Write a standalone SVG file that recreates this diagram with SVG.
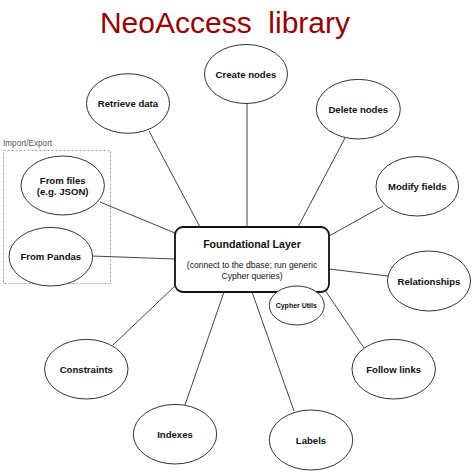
<svg xmlns="http://www.w3.org/2000/svg" width="474" height="473" viewBox="0 0 474 473">
<style>
.bg{fill:#ffffff}
.el{fill:#ffffff;stroke:#333333;stroke-width:1}
.lbl{font-family:"Liberation Sans",Arial,sans-serif;font-weight:bold;font-size:9.6px;fill:#111111;text-anchor:middle}
.sub{font-family:"Liberation Sans",Arial,sans-serif;font-size:8.6px;fill:#111111;text-anchor:middle}
.conn line{stroke:#444444;stroke-width:1}
</style>
<rect class="bg" x="0" y="0" width="474" height="473"/>
<text id="title" x="225" y="33" style="font-family:'Liberation Sans',Arial,sans-serif;font-size:30px;fill:#990000;text-anchor:middle" xml:space="preserve">NeoAccess  library</text>
<g id="import-export">
<rect x="3.5" y="150.5" width="107" height="133" fill="none" stroke="#999999" stroke-width="1" stroke-dasharray="2,2"/>
<text x="3" y="146" style="font-family:'Liberation Sans',Arial,sans-serif;font-size:8.2px;fill:#555555">Import/Export</text>
</g>
<g id="connectors" class="conn">
<line x1="149" y1="131" x2="200" y2="227"/>
<line x1="247" y1="103" x2="247" y2="227"/>
<line x1="345" y1="138" x2="298" y2="227"/>
<line x1="383" y1="206" x2="329" y2="236"/>
<line x1="329" y1="269" x2="388" y2="276"/>
<line x1="325" y1="290" x2="364" y2="348"/>
<line x1="252" y1="292" x2="294" y2="411"/>
<line x1="224" y1="292" x2="185" y2="405"/>
<line x1="113" y1="345" x2="176" y2="285"/>
<line x1="100" y1="202" x2="175" y2="233"/>
<line x1="92" y1="256" x2="175" y2="259"/>
</g>
<g id="foundational-layer">
<rect x="175" y="227" width="154" height="65" rx="8" ry="8" fill="#ffffff" stroke="#111111" stroke-width="1.8"/>
<text class="lbl" x="252" y="248" style="font-size:10.6px">Foundational Layer</text>
<text class="sub" x="252" y="268">(connect to the dbase; run generic</text>
<text class="sub" x="252" y="278.5">Cypher queries)</text>
</g>
<g id="create-nodes"><ellipse class="el" cx="246" cy="74" rx="41.5" ry="29.5"/><text class="lbl" x="246" y="77.5">Create nodes</text></g>
<g id="retrieve-data"><ellipse class="el" cx="128" cy="103.5" rx="41.5" ry="29.8"/><text class="lbl" x="128" y="107">Retrieve data</text></g>
<g id="delete-nodes"><ellipse class="el" cx="358.3" cy="109.2" rx="42" ry="29.8"/><text class="lbl" x="358.3" y="112.7">Delete nodes</text></g>
<g id="modify-fields"><ellipse class="el" cx="417.3" cy="186.3" rx="41.3" ry="29.7"/><text class="lbl" x="417.3" y="189.8">Modify fields</text></g>
<g id="relationships"><ellipse class="el" cx="429" cy="281" rx="41.5" ry="30"/><text class="lbl" x="429" y="284.5">Relationships</text></g>
<g id="follow-links"><ellipse class="el" cx="393.7" cy="369.2" rx="41.7" ry="29.8"/><text class="lbl" x="393.7" y="372.7">Follow links</text></g>
<g id="labels"><ellipse class="el" cx="311" cy="440" rx="41.7" ry="30"/><text class="lbl" x="311" y="443.5">Labels</text></g>
<g id="indexes"><ellipse class="el" cx="175" cy="434.2" rx="41.7" ry="29.8"/><text class="lbl" x="175" y="437.7">Indexes</text></g>
<g id="constraints"><ellipse class="el" cx="86.3" cy="369.2" rx="41.7" ry="29.8"/><text class="lbl" x="86.3" y="372.7">Constraints</text></g>
<g id="cypher-utils"><ellipse class="el" cx="296.8" cy="305.5" rx="27.5" ry="19.5"/><text class="lbl" x="296.3" y="308" style="font-size:7px">Cypher Utils</text></g>
<g id="from-files"><ellipse class="el" cx="62.7" cy="185.5" rx="41.7" ry="29.5"/><text class="lbl" x="62.7" y="184">From files</text><text class="lbl" x="62.7" y="194.5">(e.g. JSON)</text></g>
<g id="from-pandas"><ellipse class="el" cx="50.8" cy="256.7" rx="41.8" ry="29.3"/><text class="lbl" x="50.8" y="260">From Pandas</text></g>
</svg>
